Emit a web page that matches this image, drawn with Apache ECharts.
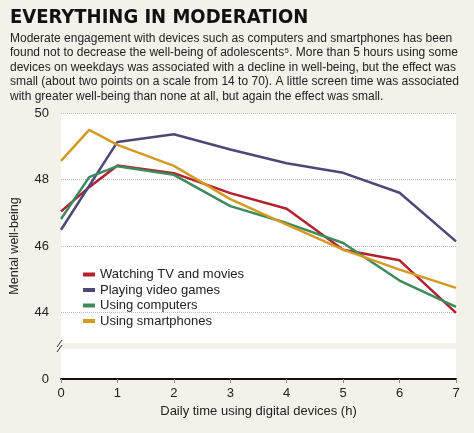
<!DOCTYPE html>
<html><head><meta charset="utf-8">
<script src="https://cdn.jsdelivr.net/npm/echarts@6/dist/echarts.min.js"></script>
<style>html,body{margin:0;padding:0;background:#f3f1ea}#c{width:474px;height:433px}</style>
</head><body><div id="c"></div>
<script>
var hours = [0, 0.5, 1, 2, 3, 4, 5, 6, 7];
var tv = [47.04, 47.77, 48.42, 48.19, 47.59, 47.12, 45.89, 45.57, 43.99];
var games = [46.49, null, 49.13, 49.36, 48.9, 48.49, 48.2, 47.6, 46.14];
var computers = [46.81, 48.07, 48.4, 48.14, 47.2, 46.69, 46.09, 44.96, 44.17];
var phones = [48.56, 49.49, 49.04, 48.41, 47.41, 46.64, 45.89, 45.29, 44.74];
var names = ['Watching TV and movies', 'Playing video games', 'Using computers', 'Using smartphones'];
var colors = ['#b3202e', '#4d4878', '#3d8b5c', '#d49a22'];
var yTicks = {42: '0', 44: '44', 46: '46', 48: '48', 50: '50'};

var para = 'Moderate engagement with devices such as computers and smartphones has been\n'
 + 'found not to decrease the well-being of adolescents\u2075. More than 5 hours using some\n'
 + 'devices on weekdays was associated with a decline in well-being, but the effect was\n'
 + 'small (about two points on a scale from 14 to 70). A little screen time was associated\n'
 + 'with greater well-being than none at all, but again the effect was small.';

function pairs(arr){
	var out=[];
	for(var i=0;i<hours.length;i++){
		if(arr[i]!=null) out.push([hours[i],arr[i]]);
	}
	return out;
}
var allData=[tv,games,computers,phones];
var series=[];
for(var i=0;i<names.length;i++){
	series.push({
		name:names[i],
		type:'line',
		data:pairs(allData[i]),
		symbol:'none',
		lineStyle:{width:2.5,color:colors[i]},
		itemStyle:{color:colors[i]},
		z:3
	});
}

var myChart = echarts.init(document.getElementById('c'));
var option = {
	backgroundColor:'#f3f1ea',
	animation:false,
	textStyle:{fontFamily:'Liberation Sans'},
	grid:{left:61,right:18,top:113,bottom:54,show:true,backgroundColor:'#ffffff',borderWidth:0},
	legend:{
		orient:'vertical',left:78,top:263,itemGap:2.5,itemWidth:12,itemHeight:4,
		icon:'rect',data:names,
		textStyle:{fontSize:13,color:'#222',fontFamily:'Liberation Sans'}
	},
	xAxis:{
		type:'value',min:0,max:7,interval:1,
		name:'Daily time using digital devices (h)',nameLocation:'middle',nameGap:26,
		nameTextStyle:{fontSize:13,color:'#222'},
		axisLine:{lineStyle:{color:'#111',width:2}},
		axisTick:{show:true,length:4,lineStyle:{color:'#888'}},
		axisLabel:{fontSize:13,color:'#222',margin:8},
		splitLine:{show:false}
	},
	yAxis:{
		type:'value',min:42,max:50,interval:2,
		name:'Mental well-being',nameLocation:'middle',nameGap:40,
		nameTextStyle:{fontSize:12.5,color:'#222'},
		axisLine:{show:false},axisTick:{show:false},
		axisLabel:{fontSize:13,color:'#222',margin:12,formatter:function(v){return yTicks[v]||'';}},
		splitLine:{show:true,lineStyle:{color:'#bbb',type:'dotted',width:1}}
	},
	graphic:[
		{type:'text',left:10,top:8,style:{text:'EVERYTHING IN MODERATION',font:'bold 20px "DejaVu Sans Condensed"',fill:'#111'}},
		{type:'text',left:10,top:31,style:{text:para,font:'12px "Liberation Sans"',fill:'#222',lineHeight:14.6}},
		{type:'rect',shape:{x:61,y:343,width:400,height:6},style:{fill:'#f3f1ea'},z:10},
		{type:'line',shape:{x1:57,y1:347,x2:62,y2:340},style:{stroke:'#333',lineWidth:1},z:11},
		{type:'line',shape:{x1:57,y1:352,x2:62,y2:345},style:{stroke:'#333',lineWidth:1},z:11}
	],
	series:series
};
myChart.setOption(option);
</script>
</body></html>
